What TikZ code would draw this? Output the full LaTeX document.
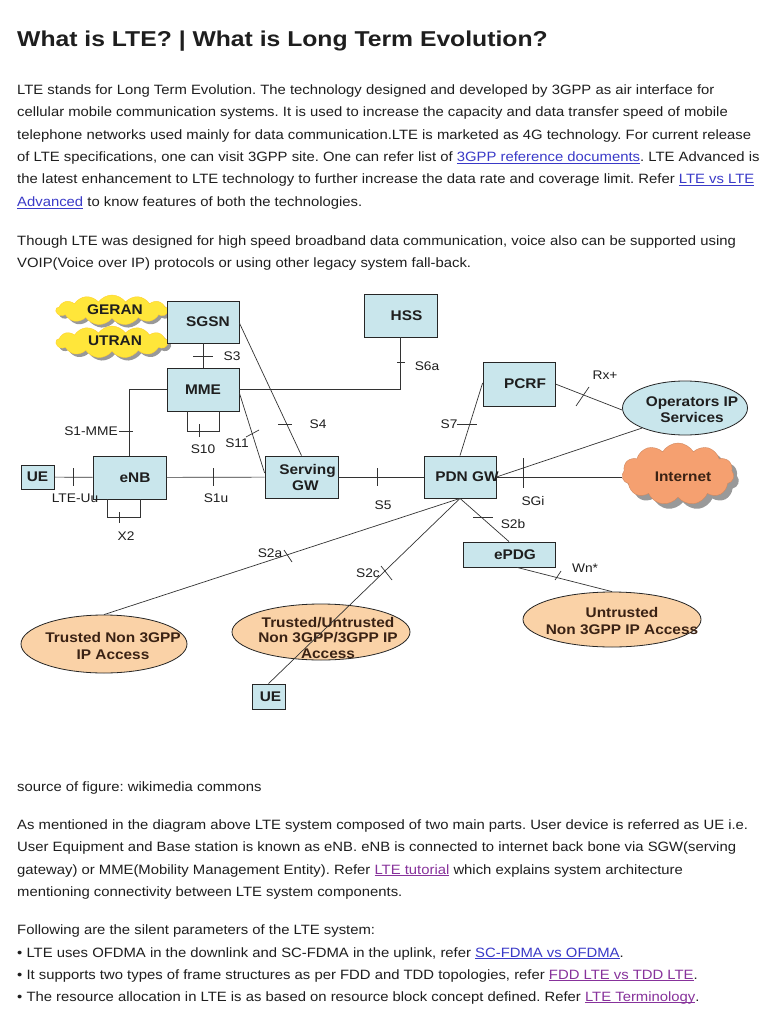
\documentclass[tikz,border=0pt]{standalone}
\usepackage{graphicx}
\usepackage{fontspec}
\setmainfont{Liberation Sans}[FakeStretch=1.1]
\usetikzlibrary{shapes.geometric,shapes.symbols,shadows,calc}
\definecolor{boxblue}{HTML}{C9E6EC}
\definecolor{peach}{HTML}{FAD2A7}
\definecolor{inetorange}{HTML}{F5A070}
\definecolor{cloudyellow}{HTML}{FFE63A}
\definecolor{linkblue}{RGB}{58,58,200}
\definecolor{linkpurple}{RGB}{135,50,155}
\definecolor{txt}{HTML}{1E1E1E}
\definecolor{brownish}{HTML}{3A2214}
\newcommand\mylink[2]{{\color{#1}\setbox0\hbox{#2}\rlap{\rule[-2.2pt]{\wd0}{0.75pt}}\box0}}
\frenchspacing
\tikzset{
  para/.style={anchor=base west, inner sep=0pt, font=\fontsize{13.5}{16}\selectfont, text=txt},
  nbox/.style={draw=black!85, line width=0.8pt, fill=boxblue, inner sep=0pt, align=center,
    font=\bfseries\fontsize{14}{16}\selectfont, text=txt},
  oval/.style={ellipse, draw=black!85, line width=0.8pt, fill=peach, inner sep=0pt},
  ovaltext/.style={align=center, inner sep=0pt, font=\bfseries\fontsize{14}{17}\selectfont, text=brownish},
  conn/.style={draw=black!80, line width=0.7pt},
  tk/.style={draw=black!80, line width=0.7pt},
  lbl/.style={font=\fontsize{12.5}{13}\selectfont, inner sep=0pt, text=txt},
  cloudshape/.style={cloud, cloud ignores aspect, inner sep=0pt}
}
\begin{document}
\begin{tikzpicture}[x=1pt,y=-1pt]
\useasboundingbox (0,0) rectangle (768,1024);
\fill[white] (0,0) rectangle (768,1024);
% ---------- title and text ----------
\node[anchor=base west, inner sep=0pt, font=\bfseries\fontsize{21.5}{24}\selectfont, text=txt] (title) at (17,47) {\scalebox{1.045}[1]{What is LTE? | What is Long Term Evolution?}};
\node[para] (p1) at (17,95) {LTE stands for Long Term Evolution. The technology designed and developed by 3GPP as air interface for};
\node[para] (p2) at (17,117) {cellular mobile communication systems. It is used to increase the capacity and data transfer speed of mobile};
\node[para] (p3) at (17,140) {telephone networks used mainly for data communication.LTE is marketed as 4G technology. For current release};
\node[para] (p4) at (17,162) {of LTE specifications, one can visit 3GPP site. One can refer list of \mylink{linkblue}{3GPP reference documents}. LTE Advanced is};
\node[para] (p5) at (17,184) {the latest enhancement to LTE technology to further increase the data rate and coverage limit. Refer \mylink{linkblue}{LTE vs LTE}};
\node[para] (p6) at (17,207) {\mylink{linkblue}{Advanced} to know features of both the technologies.};
\node[para] (p7) at (17,245) {Though LTE was designed for high speed broadband data communication, voice also can be supported using};
\node[para] (p8) at (17,267) {VOIP(Voice over IP) protocols or using other legacy system fall-back.};
\node[para] (src) at (17,791) {source of figure: wikimedia commons};
\node[para] (q1) at (17,829) {As mentioned in the diagram above LTE system composed of two main parts. User device is referred as UE i.e.};
\node[para] (q2) at (17,851) {User Equipment and Base station is known as eNB. eNB is connected to internet back bone via SGW(serving};
\node[para] (q3) at (17,874) {gateway) or MME(Mobility Management Entity). Refer \mylink{linkpurple}{LTE tutorial} which explains system architecture};
\node[para] (q4) at (17,896) {mentioning connectivity between LTE system components.};
\node[para] (r1) at (17,934) {Following are the silent parameters of the LTE system:};
\node[para] (r2) at (17,957) {\textbullet{} LTE uses OFDMA in the downlink and SC-FDMA in the uplink, refer \mylink{linkblue}{SC-FDMA vs OFDMA}.};
\node[para] (r3) at (17,979) {\textbullet{} It supports two types of frame structures as per FDD and TDD topologies, refer \mylink{linkpurple}{FDD LTE vs TDD LTE}.};
\node[para] (r4) at (17,1001) {\textbullet{} The resource allocation in LTE is as based on resource block concept defined. Refer \mylink{linkpurple}{LTE Terminology}.};
% ---------- diagram: clouds ----------
\node[cloudshape, cloud puffs=13, cloud puff arc=110, minimum width=112, minimum height=30,
  fill=cloudyellow, draw=cloudyellow!80!orange, line width=0.4pt,
  drop shadow={shadow xshift=3pt, shadow yshift=-3pt, fill=gray!80, opacity=1}] (geran) at (112,310) {};
\node[cloudshape, cloud puffs=13, cloud puff arc=110, minimum width=112, minimum height=32,
  fill=cloudyellow, draw=cloudyellow!80!orange, line width=0.4pt,
  drop shadow={shadow xshift=3pt, shadow yshift=-3pt, fill=gray!80, opacity=1}] (utran) at (112,342) {};
\node[ovaltext, text=txt] (gerant) at (115,310) {GERAN};
\node[ovaltext, text=txt] (utrant) at (115,341) {UTRAN};
\node[cloudshape, cloud puffs=11, cloud puff arc=120, minimum width=112, minimum height=62,
  fill=inetorange, draw=inetorange!85!black, line width=0.4pt,
  drop shadow={shadow xshift=5pt, shadow yshift=-5pt, fill=gray!80, opacity=1}] (inet) at (678,474) {};
\node[ovaltext] (inett) at (683,477) {Internet};
% ---------- boxes ----------
\node[nbox, minimum width=72, minimum height=42] (sgsn) at (203,322) {\hspace*{10pt}SGSN};
\node[nbox, minimum width=72, minimum height=43] (mme) at (203,389.5) {MME};
\node[nbox, minimum width=73, minimum height=43] (hss) at (400.5,315.5) {\hspace*{12pt}HSS};
\node[nbox, minimum width=73, minimum height=43] (enb) at (129.5,477.5) {\hspace*{11pt}eNB};
\node[nbox, minimum width=33, minimum height=24] (ue1) at (37.5,477) {UE};
\node[nbox, minimum width=73, minimum height=42] (sgw) at (301.5,477) {\hspace*{12pt}Serving\\\hspace*{8pt}GW};
\node[nbox, minimum width=72, minimum height=42] (pdn) at (460,477) {\makebox[50pt][c]{\hspace*{14pt}PDN GW}};
\node[nbox, minimum width=72, minimum height=44] (pcrf) at (519,384) {\hspace*{12pt}PCRF};
\node[nbox, minimum width=92, minimum height=25] (epdg) at (509,554.5) {\hspace*{12pt}ePDG};
\node[nbox, minimum width=33, minimum height=25] (ue2) at (268.5,696.5) {\hspace*{4pt}UE};
% ---------- ellipses ----------
\node[oval, fill=boxblue, minimum width=125, minimum height=54] (ops) at (685,408) {};
\node[ovaltext, text=txt, font=\bfseries\fontsize{14}{16}\selectfont] (opst) at (692,410) {Operators IP\\Services};
\node[oval, minimum width=166, minimum height=58] (tna) at (104,644) {};
\node[ovaltext] (tnat) at (113,645.5) {Trusted Non 3GPP\\IP Access};
\node[oval, minimum width=178, minimum height=56] (tua) at (321,632) {};
\node[ovaltext, font=\bfseries\fontsize{14}{15}\selectfont] (tuat) at (328,638) {Trusted/Untrusted\\Non 3GPP/3GPP IP\\[1pt]Access};
\node[oval, minimum width=178, minimum height=55] (una) at (612,619.5) {};
\node[ovaltext] (unat) at (622,620.5) {Untrusted\\Non 3GPP IP Access};
% ---------- connectors ----------
\draw[conn] (sgsn) -- (mme);
\draw[conn] (mme.west) -| (enb.north);
\draw[conn] (mme.east) -| (hss.south);
\draw[conn] ($(mme.south)+(-16,0)$) -- ++(0,20) -| ($(mme.south)+(16,0)$);
\draw[conn] ($(mme.east)+(0,3.5)$) -- ($(sgw.west)+(0,-4)$);
\draw[conn] ($(sgsn.east)+(0,1)$) -- (sgw.north);
\draw[conn] (ue1) -- (enb);
\draw[conn] (enb) -- (sgw);
\draw[conn] ($(enb.south)+(-22.5,0)$) -- ++(0,18) -| ($(enb.south)+(10.5,0)$);
\draw[conn] (sgw) -- (pdn);
\draw[conn] (pdn.north) -- ($(pcrf.west)+(0,-1)$);
\draw[conn] (pcrf.east) -- ($(ops.west)+(0,2)$);
\draw[conn] (pdn.east) -- (ops.205);
\draw[conn] (pdn.east) -- (pdn.east -| inet.west);
\draw[conn] (pdn.south) -- (tna.north);
\draw[conn] (pdn.south) -- (ue2.north);
\draw[conn] (pdn.south) -- (epdg.north);
\draw[conn] ($(epdg.south)+(8,0)$) -- (una.north);
% ---------- ticks ----------
\draw[tk] (193,356) -- (213,356);
\draw[tk] (119,431) -- (133,431);
\draw[tk] (397,362) -- (405,362);
\draw[tk] (199,424) -- (199,437);
\draw[tk] (246,437) -- (259,430);
\draw[tk] (278,424) -- (292,424);
\draw[tk] (73,468) -- (73,486);
\draw[tk] (213,468) -- (213,486);
\draw[tk] (377,468) -- (377,486);
\draw[tk] (457,424) -- (477,424);
\draw[tk] (576,406) -- (589,387);
\draw[tk] (523,458) -- (523,488);
\draw[tk] (119,512) -- (119,523);
\draw[tk] (284,550) -- (292,562);
\draw[tk] (381,566) -- (392,580);
\draw[tk] (473,517) -- (493,517);
\draw[tk] (555,580) -- (561,571);
% ---------- interface labels ----------
\node[lbl] (ls3) at (232,356) {S3};
\node[lbl, anchor=east] (ls1) at (118,431) {S1-MME};
\node[lbl] (ls6) at (427,366) {S6a};
\node[lbl] (ls10) at (203,449) {S10};
\node[lbl] (ls11) at (237,443) {S11};
\node[lbl] (ls4) at (318,424) {S4};
\node[lbl] (luu) at (75,498) {LTE-Uu};
\node[lbl] (ls1u) at (216,498) {S1u};
\node[lbl] (ls5) at (383,505) {S5};
\node[lbl] (ls7) at (449,424) {S7};
\node[lbl] (lrx) at (605,375) {Rx+};
\node[lbl] (lsgi) at (533,501) {SGi};
\node[lbl] (lx2) at (126,536) {X2};
\node[lbl] (ls2a) at (270,553) {S2a};
\node[lbl] (ls2c) at (368,573) {S2c};
\node[lbl] (ls2b) at (513,524) {S2b};
\node[lbl] (lwn) at (585,568) {Wn*};
\end{tikzpicture}
\end{document}
